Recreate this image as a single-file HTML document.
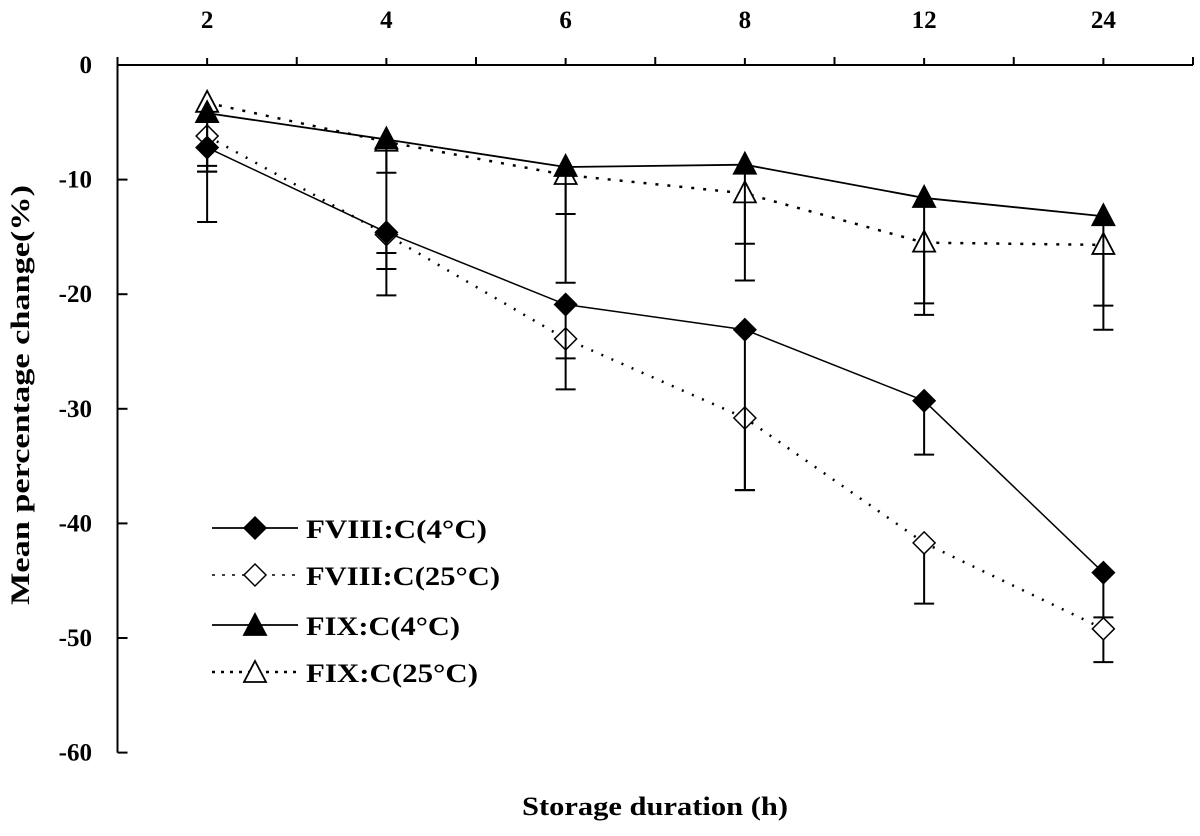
<!DOCTYPE html>
<html><head><meta charset="utf-8"><style>
body{margin:0;background:#fff;}
svg text{font-family:"Liberation Serif",serif;font-weight:bold;fill:#000;}
</style></head><body>
<svg id="chart" width="1200" height="831" xmlns="http://www.w3.org/2000/svg">
<g id="axes"></g>
<g id="series"></g>
<g id="legend"></g>
<text x="655" y="815" font-size="26" text-anchor="middle" textLength="266" lengthAdjust="spacingAndGlyphs">Storage duration (h)</text>
<text transform="translate(29,395) rotate(-90)" font-size="26" text-anchor="middle" textLength="420" lengthAdjust="spacingAndGlyphs">Mean percentage change(%)</text>
</svg>
<script>
const categories = ["2","4","6","8","12","24"];
const yTicks = [0,-10,-20,-30,-40,-50,-60];
const fviii4 = [-7.2,-14.6,-20.9,-23.1,-29.3,-44.3];
const fviii25 = [-6.2,-14.8,-23.9,-30.8,-41.7,-49.2];
const fix4 = [-4.2,-6.5,-8.9,-8.7,-11.6,-13.2];
const fix25 = [-3.3,-6.7,-9.6,-11.2,-15.5,-15.7];
const fviii4Low = [-13.7,-17.8,-25.6,-37.1,-34.0,-48.2];
const fviii25Low = [-9.3,-20.1,-28.3,-37.1,-47.0,-52.1];
const fix4Low = [-8.8,-9.4,-13.0,-15.6,-20.8,-21.0];
const fix25Low = [-9.3,-16.4,-19.0,-18.8,-21.8,-23.1];
const legendLabels = ["FVIII:C(4°C)","FVIII:C(25°C)","FIX:C(4°C)","FIX:C(25°C)"];
const legendWidths = [181,194,154,172];

const NS="http://www.w3.org/2000/svg";
const X0=117.5,X1=1193,Y0=65,PER10=114.6;
const band=(X1-X0)/categories.length;
const xPos=i=>X0+band*(i+0.5);
const yPos=v=>Y0-v/10*PER10;
function mk(tag,attrs,parent){const e=document.createElementNS(NS,tag);for(const k in attrs)e.setAttribute(k,attrs[k]);parent.appendChild(e);return e;}
const axes=document.getElementById('axes');
let e;
e=mk('line',{x1:X0,y1:Y0,x2:X1,y2:Y0,stroke:'#000','stroke-width':2},axes);


e=mk('line',{x1:X0,y1:Y0-1,x2:X0,y2:yPos(-60),stroke:'#000','stroke-width':2},axes);


for(let i=0;i<=categories.length;i++){
  e=mk('line',{x1:X0+band*i,y1:Y0,x2:X0+band*i,y2:Y0-8,stroke:'#000','stroke-width':2},axes);
  
  
}
categories.forEach((c,i)=>{
  e=mk('line',{x1:xPos(i),y1:Y0,x2:xPos(i),y2:Y0-7,stroke:'#000','stroke-width':2},axes);
  
  
  e=mk('text',{x:xPos(i),y:28,'font-size':25,'text-anchor':'middle'},axes);
  e.textContent=c;
  
  
});
yTicks.forEach(v=>{
  e=mk('line',{x1:X0,y1:yPos(v),x2:X0+10,y2:yPos(v),stroke:'#000','stroke-width':2},axes);
  
  
  e=mk('text',{x:92,y:yPos(v)+8,'font-size':25,'text-anchor':'end'},axes);
  e.textContent=String(v);
  
  
});
const S=document.getElementById('series');
const seriesDefs=[
 {vals:fviii25,low:fviii25Low,dash:'2 9',width:2.5,marker:'diamond',fill:'#fff',name:'fviii-25c'},
 {vals:fviii4,low:fviii4Low,dash:'',width:1.5,marker:'diamond',fill:'#000',name:'fviii-4c'},
 {vals:fix25,low:fix25Low,dash:'3 9',width:2.5,marker:'triangle',fill:'#fff',name:'fix-25c'},
 {vals:fix4,low:fix4Low,dash:'',width:1.8,marker:'triangle',fill:'#000',name:'fix-4c'}
];
function marker(type,cx,cy,fill,parent){
  let p;
  if(type==='diamond'){
    p=mk('polygon',{points:`${cx},${cy-11} ${cx+11},${cy} ${cx},${cy+11} ${cx-11},${cy}`,fill:fill,stroke:'#000','stroke-width':1.5},parent);
  }else{
    p=mk('polygon',{points:`${cx},${cy-12} ${cx+11},${cy+9} ${cx-11},${cy+9}`,fill:fill,stroke:'#000','stroke-width':1.8},parent);
  }
  return p;
}
seriesDefs.forEach(s=>{
  const g=mk('g',{},S);
  
  
  s.vals.forEach((v,i)=>{
    const l=mk('line',{x1:xPos(i),y1:yPos(v),x2:xPos(i),y2:yPos(s.low[i]),stroke:'#000','stroke-width':2},g);
    
    
    const c=mk('line',{x1:xPos(i)-10,y1:yPos(s.low[i]),x2:xPos(i)+10,y2:yPos(s.low[i]),stroke:'#000','stroke-width':2},g);
    
    
  });
  const pts=s.vals.map((v,i)=>xPos(i)+','+yPos(v)).join(' ');
  const pl=mk('polyline',{points:pts,fill:'none',stroke:'#000','stroke-width':s.width,'stroke-dasharray':s.dash},g);
  
  
  s.vals.forEach((v,i)=>{
    const m=marker(s.marker,xPos(i),yPos(v),s.fill,g);
    
    
  });
});
const L=document.getElementById('legend');
const legDefs=[
 {dash:'',marker:'diamond',fill:'#000',w:1.8},
 {dash:'3 7',marker:'diamond',fill:'#fff',w:1.5},
 {dash:'',marker:'triangle',fill:'#000',w:1.8},
 {dash:'3 6',marker:'triangle',fill:'#fff',w:2.5}
];
const legY=[528,575,625,672];
legDefs.forEach((d,i)=>{
  const g=mk('g',{},L);
  
  
  mk('line',{x1:212,y1:legY[i],x2:298,y2:legY[i],stroke:'#000','stroke-width':d.w,'stroke-dasharray':d.dash},g);
  marker(d.marker,255,legY[i]+(d.marker==='triangle'?1:0),d.fill,g);
  const t=mk('text',{x:306,y:legY[i]+10,'font-size':26,textLength:legendWidths[i],lengthAdjust:'spacingAndGlyphs'},g);
  t.textContent=legendLabels[i];
});
</script>
</body></html>
